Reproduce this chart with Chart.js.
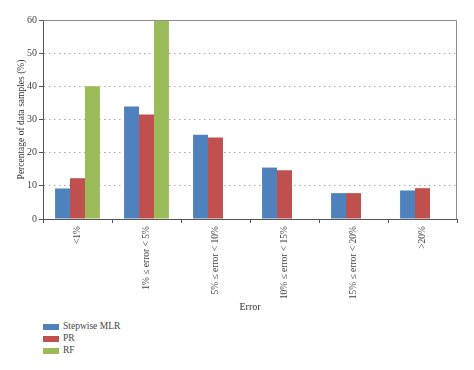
<!DOCTYPE html>
<html>
<head>
<meta charset="utf-8">
<script src="https://cdn.jsdelivr.net/npm/chart.js@4"></script>
<style>
body { margin: 0; background: #fff; }
#wrap { position: relative; width: 474px; height: 370px; }
#legend { position: absolute; left: 43px; top: 320px; font: 9.5px "Liberation Serif", serif; color: #444; }
#legend div { height: 12px; line-height: 12px; white-space: nowrap; }
#legend span { display: inline-block; width: 16px; height: 6px; margin-right: 4px; vertical-align: middle; }
</style>
</head>
<body>
<div id="wrap">
  <canvas id="errorChart" width="474" height="320"></canvas>
  <div id="legend"></div>
</div>
<script>
const errorLabels = ['<1%', '1% \u2264 error < 5%', '5% \u2264 error < 10%', '10% \u2264 error < 15%', '15% \u2264 error < 20%', '>20%'];
const mlrData = [9.2, 33.9, 25.4, 15.5, 7.8, 8.6];
const prData = [12.3, 31.5, 24.6, 14.7, 7.8, 9.3];
const rfData = [40, 60, null, null, null, null];
const yTicks = [0, 10, 20, 30, 40, 50, 60];

const serif = '"Liberation Serif", "DejaVu Serif", serif';

// grey frame on top and right of the plot
const framePlugin = {
    id: 'frame',
    afterDraw(chart) {
        const { ctx, chartArea: a } = chart;
        ctx.save();
        ctx.strokeStyle = '#8c8c8c';
        ctx.lineWidth = 1;
        ctx.beginPath();
        ctx.moveTo(a.left, a.top + 0.5);
        ctx.lineTo(a.right - 0.5, a.top + 0.5);
        ctx.lineTo(a.right - 0.5, a.bottom);
        ctx.stroke();
        ctx.restore();
    }
};

const errorCtx = document.getElementById('errorChart').getContext('2d');

const chart = new Chart(errorCtx, {
    type: 'bar',
    data: {
        labels: errorLabels,
        datasets: [
            { label: 'Stepwise MLR', data: mlrData, backgroundColor: '#4f81bd' },
            { label: 'PR', data: prData, backgroundColor: '#c0504d' },
            { label: 'RF', data: rfData, backgroundColor: '#9bbb59' }
        ]
    },
    options: {
        responsive: false,
        animation: false,
        layout: { padding: { top: 20, right: 17, left: 0, bottom: 3 } },
        datasets: { bar: { barPercentage: 1, categoryPercentage: 0.65 } },
        plugins: {
            legend: { display: false },
            tooltip: { enabled: false }
        },
        scales: {
            x: {
                afterFit(s) { s.height = 98; },
                grid: { drawOnChartArea: false, tickLength: 4, tickColor: '#555', offset: true },
                border: { color: '#555' },
                ticks: {
                    autoSkip: false, minRotation: 90, maxRotation: 90, padding: 3,
                    color: '#444', font: { family: serif, size: 9.5 }
                },
                title: {
                    display: true, text: 'Error', color: '#333',
                    font: { family: serif, size: 10 }, padding: { top: 4, bottom: 4 }
                }
            },
            y: {
                min: 0,
                max: 60,
                afterFit(s) { s.width = 43; },
                afterBuildTicks(s) { s.ticks = yTicks.map(v => ({ value: v })); },
                grid: {
                    color: ctx => (ctx.tick && (ctx.tick.value === 0 || ctx.tick.value === 60)) ? 'rgba(0,0,0,0)' : '#ababab',
                    tickColor: '#555', tickLength: 4, tickBorderDash: []
                },
                border: { color: '#555', dash: [1.5, 3.5] },
                ticks: { padding: 2, color: '#444', font: { family: serif, size: 10 } },
                title: {
                    display: true, text: 'Percentage of data samples (%)', color: '#333',
                    font: { family: serif, size: 9.5 }, padding: { top: 16, bottom: 0 }
                }
            }
        }
    },
    plugins: [framePlugin]
});

// legend stacked under the plot
const legendBox = document.getElementById('legend');
chart.data.datasets.forEach(function(ds) {
    const row = document.createElement('div');
    const sw = document.createElement('span');
    sw.style.background = ds.backgroundColor;
    row.appendChild(sw);
    row.appendChild(document.createTextNode(ds.label));
    legendBox.appendChild(row);
});
</script>
</body>
</html>
